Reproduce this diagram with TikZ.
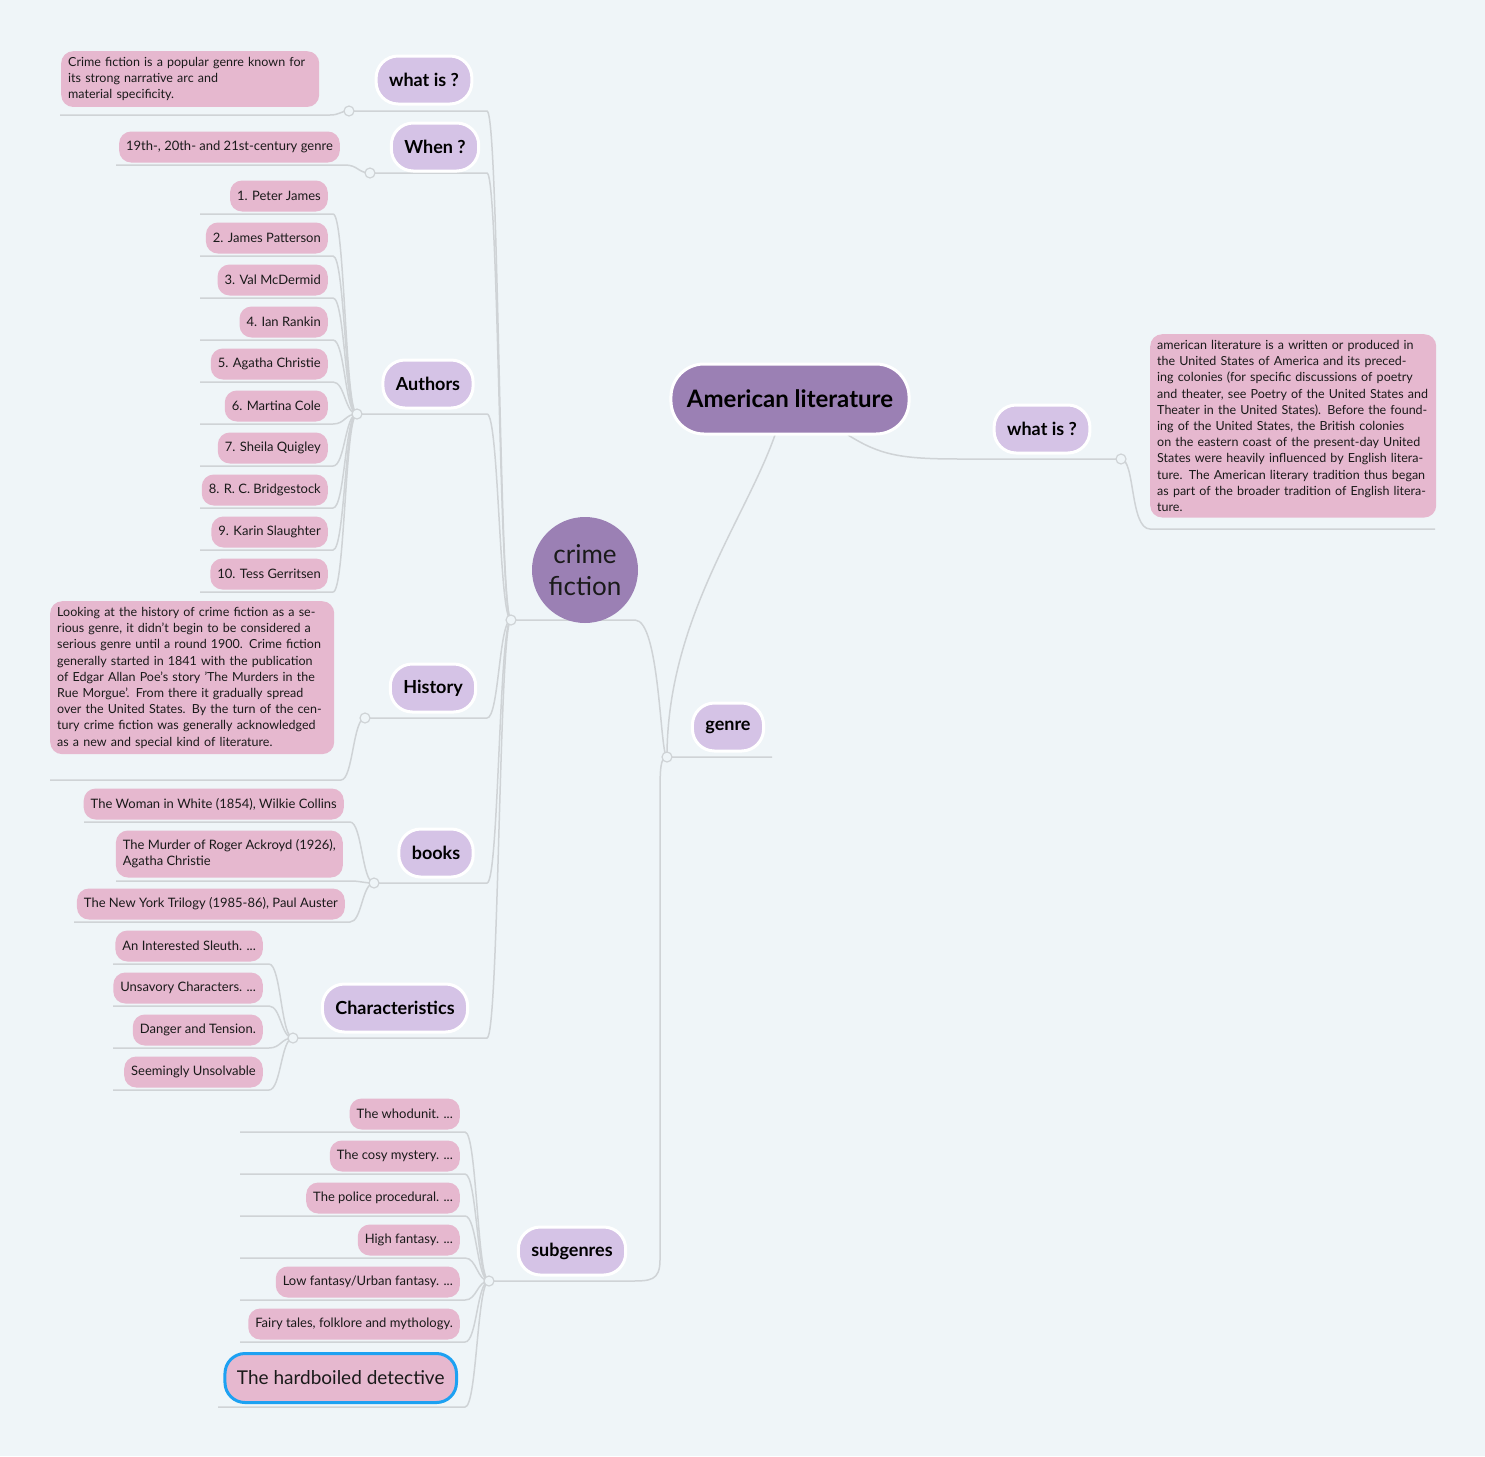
\documentclass[tikz,border=0pt]{standalone}
\usepackage{fontspec}
\setmainfont{Lato}
\definecolor{bg}{HTML}{EFF5F8}
\definecolor{pinkc}{HTML}{E6B8CF}
\definecolor{lav}{HTML}{D5C3E6}
\definecolor{purp}{HTML}{9B80B4}
\definecolor{linec}{HTML}{CFD3D6}
\definecolor{bluec}{HTML}{1DA1F2}
\definecolor{txt}{HTML}{1A1A1A}
\tikzset{
 conn/.style={draw=linec,line width=1.5},
 hubdot/.style={circle,draw=linec,fill=bg,line width=1.2,inner sep=0,minimum size=10},
 leaf/.style={fill=pinkc,rounded corners=12,inner xsep=7,inner ysep=0,minimum height=31,text=txt,font=\fontsize{13}{16}\selectfont},
 para/.style={fill=pinkc,rounded corners=12,inner xsep=7,inner ysep=6,text=txt,align=left,font=\fontsize{12.5}{16.2}\selectfont},
 lvl/.style={fill=lav,draw=white,line width=3,rounded corners=22,minimum height=48,inner xsep=13,text=black,font=\fontsize{18}{22}\bfseries\selectfont},
}
\newcommand\lnk[4]{\draw[conn] (#1,#2) .. controls ({#1-12},#2) and ({#1-12},#3) .. ({#1-24},#3) -- (#4,#3);}
\newcommand\dd{...}
\begin{document}
\begin{tikzpicture}[x=1pt,y=-1pt]
\fill[bg] (0,0) rectangle (1485,1456);
\useasboundingbox (0,0) rectangle (1485,1456);
% ---- crime fiction links
\lnk{511}{620}{111}{349}
\lnk{511}{620}{173}{370}
\lnk{511}{620}{414}{357}
\lnk{511}{620}{718}{365}
\lnk{511}{620}{883}{374}
\lnk{511}{620}{1038}{293}
\draw[conn] (511,620) -- (635,620) .. controls (660,620) and (660,757) .. (667,757) -- (772,757);
\draw[conn] (349,111) .. controls (340,111) and (340,115) .. (330,115) -- (60,115);
\draw[conn] (370,173) .. controls (358,173) and (358,165) .. (345,165) -- (116,165);
\foreach \y in {196,238,280,322,364,406,448,490,532,574}{\lnk{357}{414}{\y+18}{200}}
\draw[conn] (365,718) .. controls (353,718) and (353,780) .. (341,780) -- (50,780);
\lnk{374}{883}{822}{84}
\lnk{374}{883}{881}{116}
\lnk{374}{883}{922}{74}
\foreach \y in {946,988,1030,1072}{\lnk{293}{1038}{\y+18}{113}}
\draw[conn] (667,757) .. controls (667,620) and (745,520) .. (775,435);
\draw[conn] (848,435) .. controls (880,455) and (900,459) .. (960,459) -- (1121,459);
\draw[conn] (1121,459) .. controls (1135,459) and (1130,529) .. (1150,529) -- (1435,529);
\draw[conn] (667,757) .. controls (660,757) and (660,770) .. (660,800) -- (660,1260) .. controls (660,1281) and (650,1281) .. (630,1281) -- (489,1281);
\foreach \y in {1114,1156,1198,1240,1282,1324}{\lnk{489}{1281}{\y+18}{240}}
\lnk{489}{1281}{1407}{218}
\foreach \p/\n in {{511,620}/hc,{349,111}/h1,{370,173}/h2,{357,414}/h3,{365,718}/h4,{374,883}/h5,{293,1038}/h6,{667,757}/hg,{1121,459}/ha,{489,1281}/hs}
 \node[hubdot] (\n) at (\p) {};
% ---- nodes
\node[circle,fill=purp,minimum size=106,inner sep=0,align=center,font=\fontsize{26}{32}\selectfont,text=txt] (cf) at (585,570) {crime\\fiction};
\node[lvl] (w1) at (424,80) {what is ?};
\node[lvl] (w2) at (435,147) {When ?};
\node[lvl] (au) at (428,384) {Authors};
\node[lvl] (hi) at (433,688) {History};
\node[lvl] (bo) at (436,853) {books};
\node[lvl] (ch) at (395,1008) {Characteristics};
\node[lvl] (ge) at (728,727) {genre};
\node[lvl] (sg) at (572,1251) {subgenres};
\node[lvl] (w3) at (1042,429) {what is ?};
\node[lvl,fill=purp,minimum height=70,rounded corners=33,inner xsep=16,font=\fontsize{24}{28}\bfseries\selectfont] (al) at (790,399) {American literature};
\node[para,anchor=north west,text width=244] (p1) at (61,51) {Crime fiction is a popular genre known for\\its strong narrative arc and\\material specificity.};
\node[leaf,anchor=east] (p2) at (340,147) {19th-, 20th- and 21st-century genre};
\foreach \t [count=\i] in {1. Peter James,2. James Patterson,3. Val McDermid,4. Ian Rankin,5. Agatha Christie,6. Martina Cole,7. Sheila Quigley,8. R. C. Bridgestock,9. Karin Slaughter,10. Tess Gerritsen}
 \node[leaf,anchor=east] (a\i) at (328,{154+42*\i}) {\t};
\node[para,anchor=north west,text width=270] (p4) at (50,601) {Looking at the history of crime fiction as a serious genre, it didn't begin to be considered a serious genre until a round 1900. Crime fiction generally started in 1841 with the publication of Edgar Allan Poe's story 'The Murders in the Rue Morgue'. From there it gradually spread over the United States. By the turn of the century crime fiction was generally acknowledged as a new and special kind of literature.};
\node[leaf,anchor=east] (b1) at (344,804) {The Woman in White (1854), Wilkie Collins};
\node[leaf,anchor=east,align=left,minimum height=47] (b2) at (343,854) {The Murder of Roger Ackroyd (1926),\\Agatha Christie};
\node[leaf,anchor=east] (b3) at (345,904) {The New York Trilogy (1985-86), Paul Auster};
\node[leaf,anchor=east] (c1) at (263,946) {An Interested Sleuth. \dd};
\node[leaf,anchor=east] (c2) at (263,988) {Unsavory Characters. \dd};
\node[leaf,anchor=east] (c3) at (263,1030) {Danger and Tension.};
\node[leaf,anchor=east] (c4) at (263,1072) {Seemingly Unsolvable};
\node[leaf,anchor=east] (s1) at (460,1114) {The whodunit. \dd};
\node[leaf,anchor=east] (s2) at (460,1156) {The cosy mystery. \dd};
\node[leaf,anchor=east] (s3) at (460,1198) {The police procedural. \dd};
\node[leaf,anchor=east] (s4) at (460,1240) {High fantasy. \dd};
\node[leaf,anchor=east] (s5) at (460,1282) {Low fantasy/Urban fantasy. \dd};
\node[leaf,anchor=east] (s6) at (460,1324) {Fairy tales, folklore and mythology.};
\node[leaf,anchor=east,draw=bluec,line width=3,rounded corners=20,minimum height=49,inner xsep=12,font=\fontsize{19}{23}\selectfont] (s7) at (458,1378) {The hardboiled detective};
\node[para,anchor=north west,text width=272] (p5) at (1150,334) {american literature is a written or produced in the United States of America and its preceding colonies (for specific discussions of poetry and theater, see Poetry of the United States and Theater in the United States). Before the founding of the United States, the British colonies on the eastern coast of the present-day United States were heavily influenced by English literature. The American literary tradition thus began as part of the broader tradition of English literature.};
\end{tikzpicture}
\end{document}
